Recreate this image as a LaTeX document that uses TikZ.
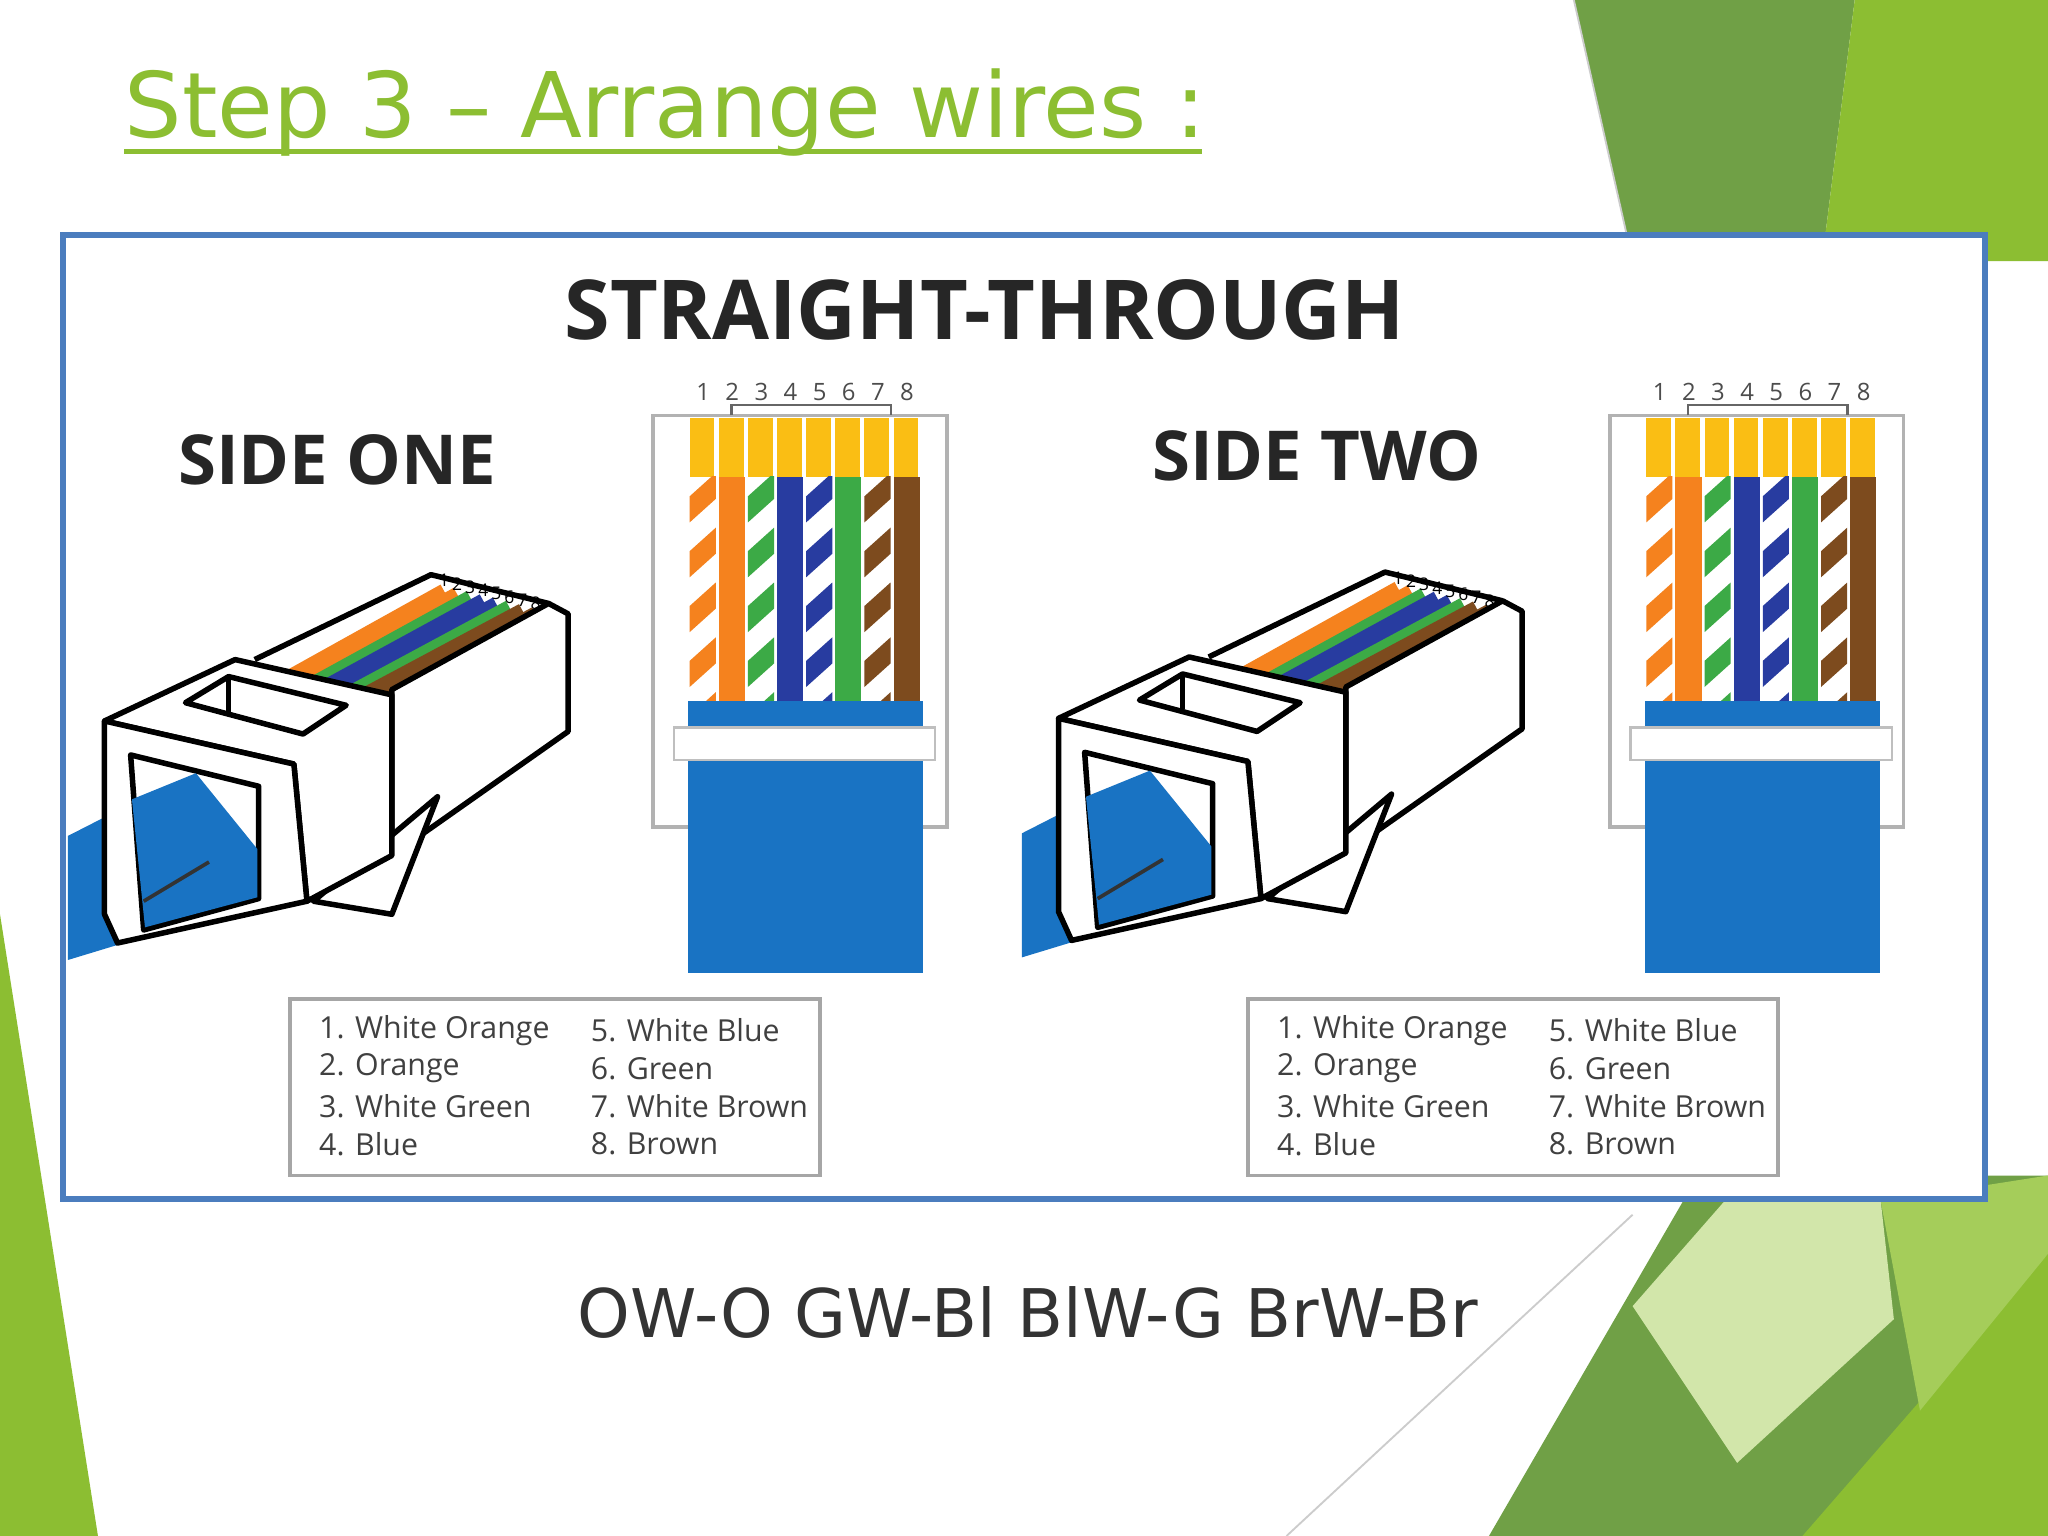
\documentclass[tikz,border=0pt]{standalone}
\usepackage{fontspec}
\setmainfont{Open Sans}
\newfontfamily\dejavu{DejaVu Sans}
\definecolor{gA}{RGB}{140,190,50}
\definecolor{gB}{RGB}{112,160,70}
\definecolor{gC}{RGB}{165,205,90}
\definecolor{gD}{RGB}{210,230,170}
\definecolor{frameblue}{RGB}{75,125,190}
\definecolor{cblue}{RGB}{25,115,195}
\definecolor{wOr}{RGB}{245,130,30}
\definecolor{wGr}{RGB}{60,170,70}
\definecolor{wBl}{RGB}{40,60,160}
\definecolor{wBr}{RGB}{125,75,30}
\definecolor{pinY}{RGB}{250,190,20}
\tikzset{
  ln/.style={draw=black,line width=1.2pt,line join=round},
  legend/.style={draw=gray!70,line width=0.8pt},
  legtxt/.style={anchor=west,font=\fontsize{6.6pt}{8pt}\selectfont,text=black!75},
}
\newcommand\solidwire[2]{\fill[#2] (#1,365) rectangle ++(20,175);}
\newcommand\stripewire[2]{%
  \fill[white] (#1,365) rectangle ++(20,175);
  \begin{scope}
    \clip (#1,365) rectangle ++(20,175);
    \foreach \k in {0,1,2,3,4}{\fill[#2] (#1,380+\k*42) -- ++(20,-18) -- ++(0,20) -- ++(-20,18) -- cycle;}
  \end{scope}}
\newcommand\pinview{%
  \draw[gray!60,line width=0.8pt] (500,318) rectangle (725,633);
  \foreach \i in {0,...,7}{\fill[pinY] (528+\i*22.3,320) rectangle ++(19,45);}
  \stripewire{528}{wOr}\solidwire{550.3}{wOr}\stripewire{572.6}{wGr}\solidwire{594.9}{wBl}
  \stripewire{617.2}{wBl}\solidwire{639.5}{wGr}\stripewire{661.8}{wBr}\solidwire{684.1}{wBr}
  \foreach \i in {1,...,8}{\node[font=\fontsize{5.2pt}{6pt}\selectfont,text=black!70] at (516+\i*22.3,300) {\i};}
  \draw[black!60,line width=0.5pt] (560,318)--(560,310)--(682,310)--(682,318);
  \fill[cblue] (527,537) rectangle (707,745);
  \fill[white] (516,557) rectangle (716,582);
  \draw[gray!50,line width=0.5pt] (516,557) rectangle (716,582);}
\newcommand\plug{%
  \fill[cblue] (52,640) -- (150,590) -- (200,690) -- (52,735) -- cycle;
  \fill[white] (195,505) -- (330,440) -- (420,462) -- (300,528) -- cycle;
  \foreach \c [count=\i] in {wOr,wOr,wGr,wBl,wBl,wGr,wBr,wBr}{
    \draw[\c,line width=3.2pt] (205+\i*11,520+\i*1.5) -- (330+\i*10,450+\i*2.5);}
  \foreach \i in {1,...,8}{\node[font=\fontsize{3.8pt}{4pt}\selectfont] at (330+\i*10,442+\i*2.5) {\i};}
  \draw[ln] (195,505) -- (330,440) -- (420,462);
  \filldraw[ln,fill=white] (300,528) -- (420,462) -- (435,470) -- (435,560) -- (300,655) -- cycle;
  \filldraw[ln,fill=white] (240,690) -- (335,610) -- (300,700) -- cycle;
  \filldraw[ln,fill=white] (80,552) -- (180,505) -- (300,532) -- (300,655) -- (235,690) -- (225,585) -- cycle;
  \filldraw[ln,fill=white] (80,552) -- (225,585) -- (235,690) -- (90,722) -- (80,700) -- cycle;
  \draw[ln] (142,538) -- (175,518) -- (265,540) -- (232,562) -- cycle;
  \draw[ln] (175,518) -- (175,545);
  \filldraw[ln,fill=white] (100,578) -- (198,602) -- (198,688) -- (110,712) -- cycle;
  \fill[cblue] (101,612) -- (150,592) -- (197,650) -- (197,687) -- (111,710) -- cycle;
  \draw[black!80,line width=0.8pt] (110,690) -- (160,660);}
\newcommand\legendbox{%
  \draw[legend] (222,765) rectangle (628,900);
  \node[legtxt] at (232,789) {1. White Orange};
  \node[legtxt] at (232,818) {2. Orange};
  \node[legtxt] at (232,847) {3. White Green};
  \node[legtxt] at (232,876) {4. Blue};
  \node[legtxt] at (440,789) {5. White Blue};
  \node[legtxt] at (440,818) {6. Green};
  \node[legtxt] at (440,847) {7. White Brown};
  \node[legtxt] at (440,876) {8. Brown};}
\begin{document}
\begin{tikzpicture}[x=0.01cm,y=-0.01cm]
\useasboundingbox (0,0) rectangle (1568,1176);
\fill[white] (0,0) rectangle (1568,1176);
\fill[gB] (1205,0) -- (1420,0) -- (1395,200) -- (1250,200) -- cycle;
\fill[gA] (1420,0) -- (1568,0) -- (1568,200) -- (1395,200) -- cycle;
\fill[gB] (1140,1176) -- (1300,900) -- (1568,900) -- (1568,1176) -- cycle;
\fill[gD] (1250,1000) -- (1320,920) -- (1440,920) -- (1450,1010) -- (1330,1120) -- cycle;
\fill[gA] (1380,1176) -- (1568,960) -- (1568,1176) -- cycle;
\fill[gC] (1440,920) -- (1568,900) -- (1568,960) -- (1470,1080) -- cycle;
\fill[gA] (0,700) -- (75,1176) -- (0,1176) -- cycle;
\draw[gray!40,line width=0.4pt] (1205,0) -- (1250,200);
\draw[gray!40,line width=0.4pt] (1250,930) -- (985,1176);
\node[anchor=base west,inner sep=0,text=gA,font=\dejavu\fontsize{19.7pt}{24pt}\selectfont] (title) at (95,105) {Step 3 – Arrange wires :};
\draw[gA,line width=1.3pt] (95,116) -- (920,116);
\draw[frameblue,fill=white,line width=1.3pt] (48,180) rectangle (1520,918);
\node[font=\fontsize{18pt}{20pt}\selectfont\bfseries,text=black!85] (st) at (754,237) {STRAIGHT-THROUGH};
\node[font=\fontsize{15pt}{18pt}\selectfont\bfseries,text=black!85] (s1) at (258,352) {SIDE ONE};
\node[font=\fontsize{15pt}{18pt}\selectfont\bfseries,text=black!85] (s2) at (1008,349) {SIDE TWO};
\begin{scope}\pinview\end{scope}
\begin{scope}[xshift=7.32cm]\pinview\end{scope}
\begin{scope}\plug\end{scope}
\begin{scope}[xshift=7.3cm,yshift=0.02cm]\plug\end{scope}
\begin{scope}\legendbox\end{scope}
\begin{scope}[xshift=7.33cm]\legendbox\end{scope}
\node[font=\dejavu\fontsize{14.6pt}{18pt}\selectfont,text=black!80] (code) at (787,1005) {OW-O GW-Bl BlW-G BrW-Br};
\end{tikzpicture}
\end{document}
